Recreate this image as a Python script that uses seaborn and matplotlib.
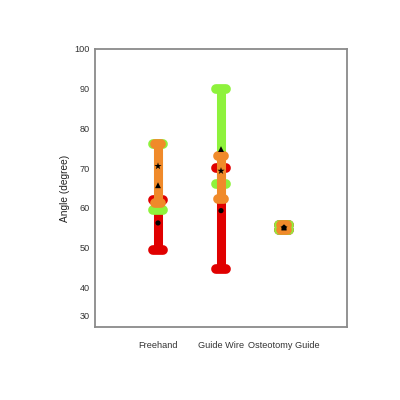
import matplotlib
matplotlib.use("Agg")
import matplotlib.pyplot as plt
import matplotlib.transforms as mtransforms
import pandas as pd
import seaborn as sns

# --- data ---
groups = ["Freehand", "Guide Wire", "Osteotomy Guide"]
series = ["red", "green", "orange"]

red_low = [49.5, 44.5, 54.5]
red_high = [62.0, 70.0, 55.8]
red_mean = [56.2, 59.3, 55.0]

green_low = [59.4, 66.0, 54.4]
green_high = [76.0, 90.0, 55.6]
green_mean = [65.7, 74.8, 55.1]

orange_low = [61.2, 62.2, 54.3]
orange_high = [76.0, 73.0, 55.8]
orange_mean = [70.5, 69.3, 55.0]

colors = {"red": "#e00000", "green": "#8ef23c", "orange": "#f08a2a"}
markers = {"red": "o", "green": "^", "orange": "*"}
caps = {"red": 0.08, "green": 0.08, "orange": 0.055}

rows = []
for s, lo, hi, mu in [("red", red_low, red_high, red_mean),
                      ("green", green_low, green_high, green_mean),
                      ("orange", orange_low, orange_high, orange_mean)]:
    for i, g in enumerate(groups):
        rows.append({"Group": g, "pos": i, "Series": s,
                     "low": lo[i], "high": hi[i], "mean": mu[i]})
df = pd.DataFrame(rows)

sns.set_style("white")
plt.rcParams["font.family"] = ["Liberation Sans", "DejaVu Sans"]

fig = plt.figure(figsize=(4, 4), dpi=100)
ax = fig.add_axes([0.2375, 0.1825, 0.63, 0.695])

for s in series:
    sub = df[df["Series"] == s]
    cap = caps[s]
    for _, r in sub.iterrows():
        ax.plot([r["pos"], r["pos"]], [r["low"], r["high"]], color=colors[s],
                lw=6.5, solid_capstyle="butt", zorder=2)
        for y in (r["low"], r["high"]):
            ax.plot([r["pos"] - cap, r["pos"] + cap], [y, y], color=colors[s],
                    lw=7.0, solid_capstyle="round", zorder=2)

sns.scatterplot(data=df, x="pos", y="mean", style="Series", markers=markers,
                color="black", s=16, linewidth=0, legend=False, ax=ax, zorder=3)
# the stars need a little more size to read like the reference
ax.collections[-1].set_sizes([14, 14, 14, 18, 18, 18, 30, 30, 30])

ax.set_xlim(-1, 3)
ax.set_ylim(30, 100)
ax.set_xticks(range(len(groups)))
ax.set_xticklabels(groups)
ax.set_yticks([30, 40, 50, 60, 70, 80, 90, 100])
ax.set_xlabel("")
ax.set_ylabel("Angle (degree)", fontsize=7.3, color="#222222", labelpad=3)

for sp in ax.spines.values():
    sp.set_color("#8a8a8a")
    sp.set_linewidth(1.3)
    sp.set_visible(True)

ax.tick_params(axis="both", labelsize=6.6, colors="#8a8a8a", labelcolor="#333333",
               length=2, width=1, direction="out")
ax.tick_params(axis="x", pad=8)
ax.tick_params(axis="y", pad=2)

# the "30" label sits above the broken axis end, with no tick mark
yt = ax.yaxis.get_major_ticks()[0]
yt.tick1line.set_visible(False)
offset = mtransforms.ScaledTranslation(0, 8 / 72, fig.dpi_scale_trans)
yt.label1.set_transform(yt.label1.get_transform() + offset)

fig.savefig("out.png", dpi=100, facecolor="white")
